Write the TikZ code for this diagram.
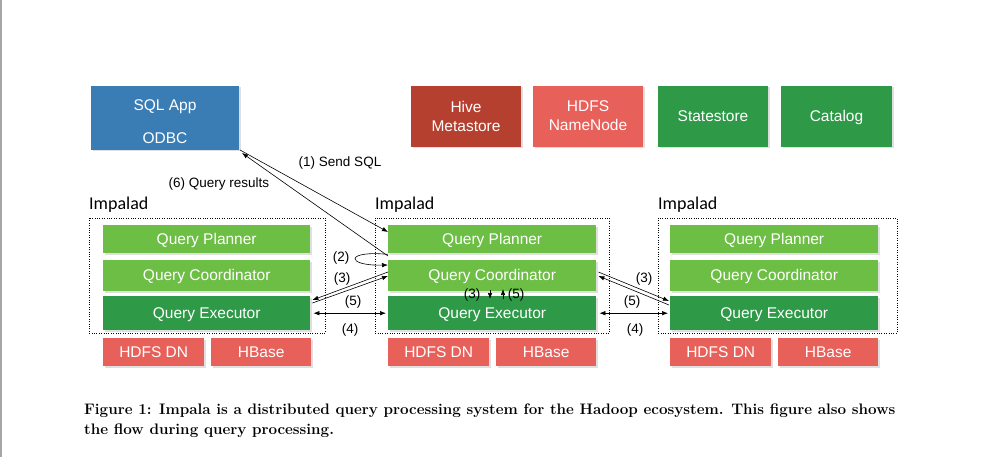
\documentclass[tikz,border=0pt]{standalone}
\usepackage{fontspec}
\setmainfont{Liberation Sans}
\newfontfamily\calfont{Carlito}
\newfontfamily\capfont{Latin Modern Roman}
\usetikzlibrary{shadows,calc,arrows.meta}
\definecolor{lg}{HTML}{6DBE45}
\definecolor{dg}{HTML}{2E9A48}
\definecolor{sg}{HTML}{2E9A48}
\definecolor{hr}{HTML}{E8605A}
\definecolor{mr}{HTML}{B5402F}
\definecolor{bl}{HTML}{3A7DB5}
\begin{document}
\begin{tikzpicture}[x=1pt,y=-1pt,
 box/.style={draw=none,text=white,font=\fontsize{15.5}{18}\selectfont,inner sep=0pt,text depth=1pt,
   drop shadow={shadow xshift=1.5pt,shadow yshift=-1.5pt,opacity=0.25}},
 imp/.style={draw,dotted,thin},
 lab/.style={font=\fontsize{13.5}{15}\selectfont,inner sep=1pt},
 imtxt/.style={font=\calfont\fontsize{18}{20}\selectfont,anchor=base west,inner sep=0pt},
 arr/.style={-{Latex[length=6pt,width=4.5pt]},semithick},
 darr/.style={{Latex[length=6pt,width=4.5pt]}-{Latex[length=6pt,width=4.5pt]},semithick}]
\useasboundingbox (0,0) rectangle (984,457);
\draw[gray!70,line width=1.5pt] (1,0) -- (1,457);
% top boxes
\fill[bl,drop shadow={shadow xshift=1.5pt,shadow yshift=-1.5pt,opacity=0.25}] (91,86) rectangle (239,150);
\node[text=white,font=\fontsize{15.5}{18}\selectfont] (sqlapp) at (165,107) {SQL App};
\node[text=white,font=\fontsize{15.5}{18}\selectfont] (odbc) at (165,138) {ODBC};
\coordinate (sqlr) at (240,150);
\coordinate (sqlr2) at (242,153);
\node[box,fill=mr,minimum width=110pt,minimum height=61pt,align=center] (hive) at (466,116.5) {Hive\\[1pt]Metastore};
\node[box,fill=hr,minimum width=110pt,minimum height=61pt,align=center] (nn) at (588,116.5) {HDFS\\[1pt]NameNode};
\node[box,fill=sg,minimum width=110pt,minimum height=61pt] (ss) at (713,116.5) {Statestore};
\node[box,fill=sg,minimum width=111pt,minimum height=61pt] (cat) at (836.5,116.5) {Catalog};
% impalads
\foreach \n/\bx/\bw/\ix/\iw/\hx in {L/89/236/103/207/211, M/375/234/388/208/496, R/658/239/670/208/778}{
 \draw[imp] (\bx,218) rectangle ++(\bw,115);
 \node[imtxt] (lab\n) at (\bx,209) {Impalad};
 \node[box,fill=lg,minimum width=\iw pt,minimum height=28pt,anchor=north west] (qp\n) at (\ix,225) {Query Planner};
 \node[box,fill=lg,minimum width=\iw pt,minimum height=31pt,anchor=north west] (qc\n) at (\ix,260) {Query Coordinator};
 \node[box,fill=dg,minimum width=\iw pt,minimum height=34pt,anchor=north west] (qe\n) at (\ix,296) {Query Executor};
 \node[box,fill=hr,minimum width=101pt,minimum height=28pt,anchor=north west] (dn\n) at (\ix,338) {HDFS DN};
 \node[box,fill=hr,minimum width=100pt,minimum height=28pt,anchor=north west] (hb\n) at (\hx,338) {HBase};
}
% arrows
\draw[arr] (sqlr) -- ([yshift=-7pt]qpM.north west);
\node[lab] (l1) at (340,163) {(1) Send SQL};
\draw[arr] ([yshift=4pt]qcM.north west) -- (sqlr2);
\node[lab] (l6) at (219,184) {(6) Query results};
\draw[arr] ([yshift=-1pt]qpM.south west) .. controls (345,250) and (345,266) .. ([yshift=-5pt]qcM.north west);
\node[lab] (l2) at (341,258) {(2)};
\draw[arr] ([yshift=-12pt]qcM.north west) -- ([xshift=2pt,yshift=-4pt]qeL.north east);
\draw[arr] ([xshift=2pt,yshift=-7pt]qeL.north east) -- ([yshift=-16pt]qcM.north west);
\node[lab] (l3) at (342,279) {(3)};
\node[lab] (l5) at (353,302) {(5)};
\draw[darr] ([xshift=3pt]qeL.east) -- ([xshift=-2pt]qeM.west);
\node[lab] (l4) at (350,330) {(4)};
\draw[arr] ([xshift=2pt,yshift=-12pt]qcM.north east) -- ([xshift=-1pt,yshift=-5pt]qeR.north west);
\draw[arr] ([xshift=-1pt,yshift=-9pt]qeR.north west) -- ([xshift=2pt,yshift=-16pt]qcM.north east);
\node[lab] (r3) at (644,279) {(3)};
\node[lab] (r5) at (632,302) {(5)};
\draw[darr] ([xshift=3pt]qeM.east) -- ([xshift=-2pt]qeR.west);
\node[lab] (r4) at (635,330) {(4)};
\coordinate (d1) at (490,290); \coordinate (d2) at (490,299);
\coordinate (u1) at (503,299); \coordinate (u2) at (503,289);
\draw[arr] (d1) -- (d2);
\draw[arr] (u1) -- (u2);
\node[lab] (m3) at (472,295) {(3)};
\node[lab] (m5) at (516,295) {(5)};
% caption
\node[anchor=base west,inner sep=0pt,font=\capfont\bfseries\fontsize{15.2}{17}\selectfont] (cap1) at (84,414) {Figure 1: Impala is a distributed query processing system for the Hadoop ecosystem. This figure also shows};
\node[anchor=base west,inner sep=0pt,font=\capfont\bfseries\fontsize{15.2}{17}\selectfont] (cap2) at (84,434) {the flow during query processing.};
\end{tikzpicture}
\end{document}
